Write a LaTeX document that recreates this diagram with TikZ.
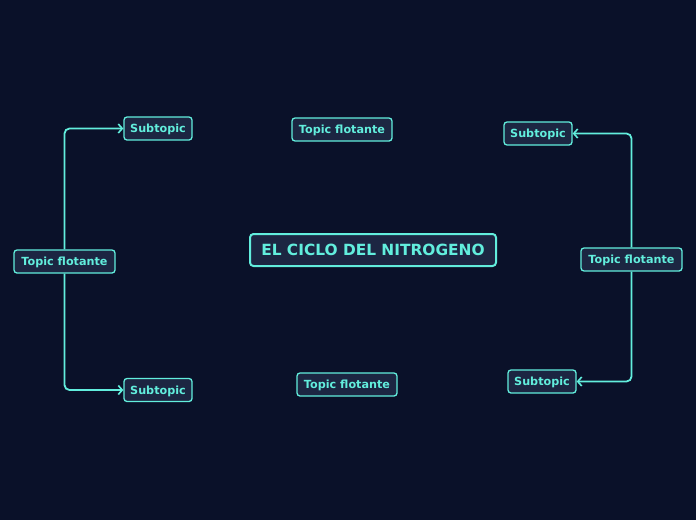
\documentclass[tikz,border=0pt]{standalone}
\usepackage{fontspec}
\setmainfont{DejaVu Sans}
\usetikzlibrary{arrows.meta}
\definecolor{bgc}{HTML}{0A1129}
\definecolor{boxfill}{HTML}{1C2642}
\definecolor{cyanline}{HTML}{62EEDD}
\begin{document}
\begin{tikzpicture}[x=1pt,y=-1pt,
  smallbox/.style={draw=cyanline, fill=boxfill, line width=1.3pt, rounded corners=3pt,
    text=cyanline, font=\fontsize{11.2}{13}\selectfont\bfseries, inner sep=0pt,
    text height=8.2pt, text depth=0pt, minimum height=23pt},
  mainbox/.style={draw=cyanline, fill=boxfill, line width=2pt, rounded corners=3.5pt,
    text=cyanline, font=\fontsize{15.4}{18}\selectfont\bfseries, inner sep=0pt,
    text height=11.2pt, text depth=0pt, minimum width=246pt, minimum height=32pt},
  conn/.style={draw=cyanline, line width=1.8pt, rounded corners=5pt,
    -{Straight Barb[length=4pt,width=9pt,line width=1.6pt]}}
]
\useasboundingbox[fill=bgc] (0,0) rectangle (696,520);
\node[mainbox] (main) at (373,250) {EL CICLO DEL NITROGENO};
\node[smallbox, minimum width=68pt] (stl) at (158,128.5) {Subtopic};
\node[smallbox, minimum width=101pt] (tl) at (64.5,261.5) {Topic flotante};
\node[smallbox, minimum width=68pt] (sbl) at (158,390) {Subtopic};
\node[smallbox, minimum width=100pt] (tt) at (342,129.5) {Topic flotante};
\node[smallbox, minimum width=100pt] (tb) at (347,384.5) {Topic flotante};
\node[smallbox, minimum width=68pt] (str) at (538,133.5) {Subtopic};
\node[smallbox, minimum width=101pt] (tr) at (631.5,259.5) {Topic flotante};
\node[smallbox, minimum width=68pt] (sbr) at (542,381.5) {Subtopic};
\draw[conn] (tl.north) |- (stl.west);
\draw[conn] (tl.south) |- (sbl.west);
\draw[conn] (tr.north) |- (str.east);
\draw[conn] (tr.south) |- (sbr.east);
\end{tikzpicture}
\end{document}
